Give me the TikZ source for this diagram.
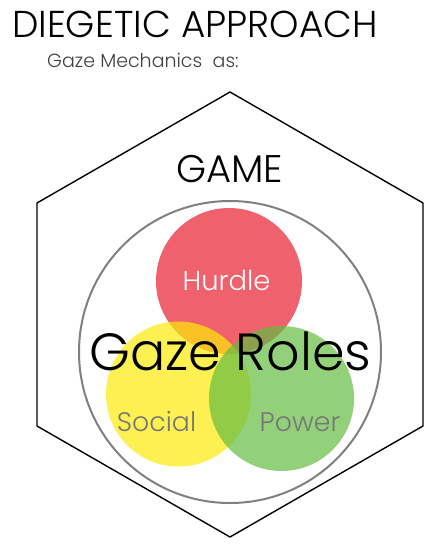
\documentclass[tikz,border=0pt]{standalone}
\usepackage{fontspec}
\IfFontExistsTF{Poppins Light}{\setmainfont{Poppins Light}}{\setmainfont{Poppins}}
\definecolor{hurdlered}{RGB}{232,30,45}
\definecolor{socialyellow}{RGB}{252,234,8}
\definecolor{powergreen}{RGB}{101,188,65}
\definecolor{ringgray}{RGB}{128,128,128}
\definecolor{labelgray}{RGB}{118,118,118}
\tikzset{
  rolecircle/.style={fill opacity=.7,draw=none},
  titletext/.style={anchor=base west,inner sep=0pt},
  roletext/.style={anchor=base,inner sep=0pt}
}
\begin{document}
\begin{tikzpicture}[line cap=round,line join=round,x=1pt,y=-1pt]
	\useasboundingbox (0,0) rectangle (439,550);
	% heading
	\node[titletext,font=\fontsize{37.4}{40}\selectfont] (title) at (12,37.3) {DIEGETIC APPROACH};
	\node[titletext,font=\fontsize{19}{22}\selectfont,text=black!75] (subtitle) at (47,67) {Gaze Mechanics\ \ as:};
	% hexagon for the game
	\draw[line width=1.4pt] (230,92)--(423,203)--(423,426)--(230,537)--(37,426)--(37,203)--cycle;
	\node[roletext,font=\fontsize{38.5}{42}\selectfont] (game) at (229.5,182.7) {GAME};
	\draw[line width=2pt,color=ringgray] (230,352) circle (151);
	% the three roles
	\fill[rolecircle,hurdlered] (229,281) circle (73) coordinate (hurdlec);
	\fill[rolecircle,socialyellow] (178.5,394) circle (72.5) coordinate (socialc);
	\fill[rolecircle,powergreen] (281.5,398.5) circle (72.5) coordinate (powerc);
	\node[roletext,font=\fontsize{27.4}{30}\selectfont,text=white] (hurdle) at (226.5,290) {Hurdle};
	\node[roletext,font=\fontsize{26.8}{30}\selectfont,text=labelgray] (social) at (156.5,431) {Social};
	\node[roletext,font=\fontsize{26.8}{30}\selectfont,text=labelgray] (power) at (300,431) {Power};
	\node[roletext,font=\fontsize{52.3}{56}\selectfont] (roles) at (230.5,370) {Gaze Roles};
\end{tikzpicture}
\end{document}
